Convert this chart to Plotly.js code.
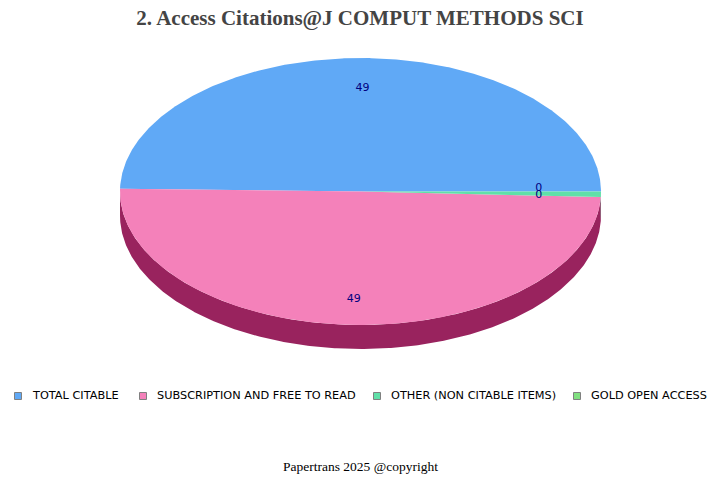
<!DOCTYPE html>
<html>
<head>
<meta charset="utf-8">
<script src="https://cdn.plot.ly/plotly-3.0.1.min.js"></script>
<style>html,body{margin:0;padding:0;background:#fff}#chart{width:720px;height:480px}</style>
</head>
<body>
<div id="chart"></div>
<script>
var categories = ["TOTAL CITABLE", "SUBSCRIPTION AND FREE TO READ", "OTHER (NON CITABLE ITEMS)", "GOLD OPEN ACCESS"];
var values = [49.67, 49.67, 0.66, 0];
var valueLabels = ["49", "49", "0", "0"];
var colors = ["#60A9F6", "#F481BA", "#60E0A8", "#80E080"];
var wallColors = ["#2F6DB0", "#99235E", "#2A9A6A", "#3F9F3F"];
var titleText = "2. Access Citations@J COMPUT METHODS SCI";
var footerText = "Papertrans 2025 @copyright";

var cx = 360.5, cy = 191.5, rx = 240.5, ry = 133.5, depth = 24, labelR = 0.77;
var labelNudgeX = [0, -1, -7, -7], labelNudgeY = [0, 5, 1.5, -3.5];
var legendMarkerX = [18, 143, 377, 577], legendTextX = [30, 155, 389, 589];
var legendMarkerY = 396, legendY = 395.5;
var total = values.reduce(function (a, b) { return a + b; }, 0);

function pt(deg, dy) {
  var t = deg * Math.PI / 180;
  return [cx + rx * Math.cos(t), cy - ry * Math.sin(t) + (dy || 0)];
}
function arc(a0, a1, dy) {
  var out = [], n = Math.max(2, Math.ceil(Math.abs(a1 - a0) * 2));
  for (var i = 0; i <= n; i++) out.push(pt(a0 + (a1 - a0) * i / n, dy));
  return out;
}
function poly(points, color) {
  return {
    type: "scatter", mode: "lines", fill: "toself", fillcolor: color,
    line: { width: 0, color: color }, hoverinfo: "skip", showlegend: false,
    x: points.map(function (p) { return p[0]; }),
    y: points.map(function (p) { return p[1]; })
  };
}

var traces = [], tops = [], lx = [], ly = [], start = 0;
values.forEach(function (v, i) {
  var sweep = v / total * 360, end = start + sweep, mid = start + sweep / 2;
  var a = Math.max(start, 180), b = Math.min(end, 360);
  if (b > a) {
    traces.push(poly(arc(a, b, 0).concat(arc(b, a, depth)), wallColors[i]));
  }
  tops.push(poly([[cx, cy]].concat(arc(start, end, 0)).concat([[cx, cy]]), colors[i]));
  var l = pt(mid);
  lx.push(cx + (l[0] - cx) * labelR + labelNudgeX[i]);
  ly.push(cy + (l[1] - cy) * labelR + labelNudgeY[i]);
  start = end;
});
traces = traces.concat(tops);

traces.push({
  type: "scatter", mode: "text", x: lx, y: ly, text: valueLabels, textposition: "middle center",
  textfont: { family: "DejaVu Sans", size: 11, color: "#000080" }, hoverinfo: "skip", showlegend: false
});

traces.push({
  type: "scatter", mode: "markers", hoverinfo: "skip", showlegend: false,
  x: legendMarkerX, y: categories.map(function () { return legendMarkerY; }),
  marker: { symbol: "square", size: 7, color: colors, line: { width: 1, color: "#808080" } }
});

var annotations = categories.map(function (c, i) {
  return { text: c, xref: "x", yref: "y", x: legendTextX[i], y: legendY, xanchor: "left", yanchor: "middle",
           showarrow: false, font: { family: "DejaVu Sans", size: 11.3, color: "#000000" } };
});
annotations.push({ text: footerText, xref: "paper", yref: "paper", x: 0.5, y: 0.029, xanchor: "center", yanchor: "middle",
                   showarrow: false, font: { family: "Liberation Serif", size: 13.5, color: "#000000" } });

var layout = {
  width: 720, height: 480, margin: { l: 0, r: 0, t: 0, b: 0 },
  paper_bgcolor: "#ffffff", plot_bgcolor: "#ffffff",
  title: { text: "<b>" + titleText + "</b>", x: 0.5, xanchor: "center", y: 0.964, yanchor: "middle",
           font: { family: "Liberation Serif", size: 21, color: "#444444" } },
  xaxis: { range: [0, 720], visible: false, fixedrange: true },
  yaxis: { range: [480, 0], visible: false, fixedrange: true },
  showlegend: false,
  annotations: annotations
};
Plotly.newPlot("chart", traces, layout, { displayModeBar: false, staticPlot: true });
</script>
</body>
</html>
